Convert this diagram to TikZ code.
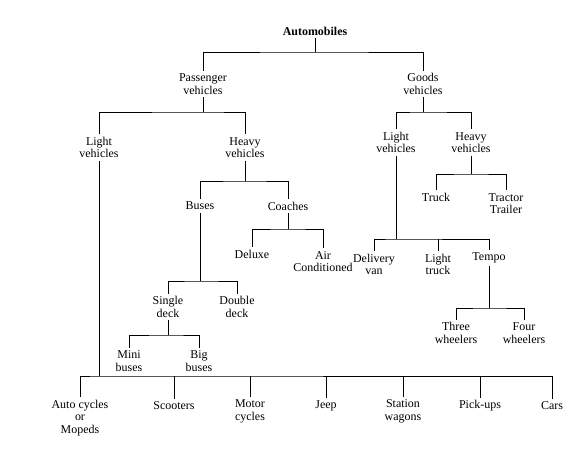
\documentclass[tikz,border=0pt]{standalone}
\usepackage{fontspec}
\setmainfont{Liberation Serif}
\begin{document}
\begin{tikzpicture}[thick,x=1bp,y=-1bp,
        box/.style={align=center,inner sep=2.5pt,font=\fontsize{12}{12.5}\selectfont}]
        \useasboundingbox (0,0) rectangle (580,468);
        \node[box,font=\fontsize{12}{12.5}\selectfont\bfseries] (Auto) at (315,31) {Automobiles};
        \node[box] (Pass) at (203,84) {Passenger\\vehicles};
        \node[box] (Goods) at (423,84) {Goods\\vehicles};
        \node[box] (PLight) at (99,147.5) {Light\\vehicles};
        \node[box] (PHeavy) at (245,147.5) {Heavy\\vehicles};
        \node[box] (GLight) at (396,142.5) {Light\\vehicles};
        \node[box] (GHeavy) at (471,142.5) {Heavy\\vehicles};
        \node[box] (Buses) at (200,206) {Buses};
        \node[box] (Coaches) at (288,206) {Coaches};
        \node[box] (Deluxe) at (252,254) {Deluxe};
        \node[box] (AirCon) at (323,261.5) {Air\\Conditioned};
        \node[box] (Single) at (168,307) {Single\\deck};
        \node[box] (Double) at (237,307) {Double\\deck};
        \node[box] (Mini) at (129,361) {Mini\\buses};
        \node[box] (Big) at (199,361) {Big\\buses};
        \node[box] (Truck) at (436,197) {Truck};
        \node[box] (Tractor) at (506,203.5) {Tractor\\Trailer};
        \node[box] (Deliv) at (374,264.5) {Delivery\\van};
        \node[box] (LTruck) at (438,264.5) {Light\\truck};
        \node[box] (Tempo) at (489,258) {Tempo};
        \node[box] (Three) at (456,333) {Three\\wheelers};
        \node[box] (Four) at (524,333) {Four\\wheelers};
        \node[box] (Mopeds) at (80,418) {Auto cycles\\or\\Mopeds};
        \node[box] (Scoot) at (174,406) {Scooters};
        \node[box] (Motor) at (250,411.5) {Motor\\cycles};
        \node[box] (Jeep) at (326,406) {Jeep};
        \node[box] (Wagon) at (403,411.5) {Station\\wagons};
        \node[box] (Pickup) at (480,406) {Pick-ups};
        \node[box] (Cars) at (552,406) {Cars};
        % junction points
        \coordinate (AutoJ) at (315,52);
        \coordinate (PassJ) at (203,112);
        \coordinate (GoodsJ) at (423,112);
        \coordinate (PHeavyJ) at (245,181);
        \coordinate (BusesJ) at (200,281);
        \coordinate (CoachJ) at (288,229);
        \coordinate (SingleJ) at (168,335);
        \coordinate (GHeavyJ) at (471,174);
        \coordinate (GLightJ) at (396,239);
        \coordinate (TempoJ) at (489,308);
        \coordinate (BotJ) at (99,376);
        \draw (Auto)--(AutoJ);
        \draw (Pass)|-(AutoJ)-|(Goods);
        \draw (Pass)--(PassJ);
        \draw (PLight)|-(PassJ)-|(PHeavy);
        \draw (Goods)--(GoodsJ);
        \draw (GLight)|-(GoodsJ)-|(GHeavy);
        \draw (PHeavy)--(PHeavyJ);
        \draw (Buses)|-(PHeavyJ)-|(Coaches);
        \draw (Coaches)--(CoachJ);
        \draw (Deluxe)|-(CoachJ)-|(AirCon);
        \draw (Buses)--(BusesJ);
        \draw (Single)|-(BusesJ)-|(Double);
        \draw (Single)--(SingleJ);
        \draw (Mini)|-(SingleJ)-|(Big);
        \draw (GHeavy)--(GHeavyJ);
        \draw (Truck)|-(GHeavyJ)-|(Tractor);
        \draw (GLight)--(GLightJ);
        \draw (Deliv)|-(GLightJ)-|(Tempo);
        \draw (LTruck)--(LTruck|-GLightJ);
        \draw (Tempo)--(TempoJ);
        \draw (Three)|-(TempoJ)-|(Four);
        \draw (PLight)--(BotJ);
        \draw (Mopeds)|-(BotJ)-|(Cars);
        \foreach \n in {Scoot,Motor,Jeep,Wagon,Pickup}
            \draw (\n)--(\n|-BotJ);
    \end{tikzpicture}
\end{document}
